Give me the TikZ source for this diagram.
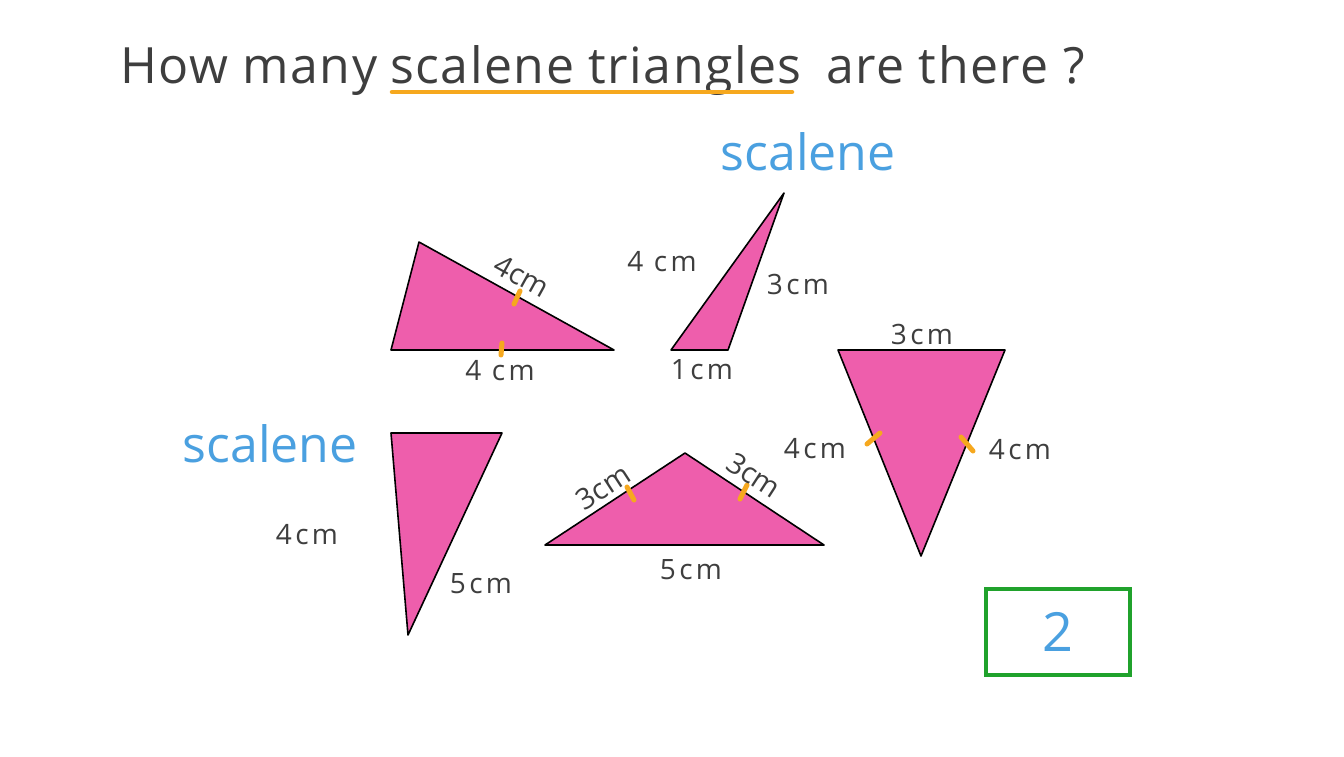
\documentclass[tikz,border=0pt]{standalone}
\usepackage{fontspec}
\setmainfont{Open Sans}
\definecolor{pinkfill}{RGB}{238,94,172}
\definecolor{tickorange}{RGB}{246,168,30}
\definecolor{textgray}{RGB}{62,62,62}
\definecolor{labelblue}{RGB}{74,160,224}
\definecolor{boxgreen}{RGB}{32,162,44}
\tikzset{
  tri/.style={fill=pinkfill,draw=black,line width=1.6pt,line join=round},
  tickmark/.style={draw=tickorange,line width=5pt,line cap=round},
  lab/.style={text=textgray,font=\fontsize{28}{32}\selectfont\addfontfeatures{LetterSpace=12},inner sep=0pt},
  rlab/.style={text=textgray,font=\fontsize{29}{32}\selectfont,inner sep=0pt},
  title/.style={text=textgray,font=\fontsize{50}{56}\selectfont\addfontfeatures{LetterSpace=3},inner sep=0pt,anchor=base west},
  bluelab/.style={text=labelblue,font=\fontsize{50}{56}\selectfont,inner sep=0pt},
}
\begin{document}
\begin{tikzpicture}[x=1pt,y=-1pt]
\useasboundingbox[fill=white] (0,0) rectangle (1344,756);
% title
\node[title] (t1) at (120,83) {How many};
\node[title] (t2) at (390,83) {scalene triangles};
\node[title] (t3) at (826,83) {are there ?};
\coordinate (ul1) at (392,92);
\coordinate (ul2) at (792,92);
\draw[tickorange,line width=4.5pt,line cap=round] (ul1) -- (ul2);
% triangle 1
\coordinate (a1) at (419,242);
\coordinate (a2) at (391,350);
\coordinate (a3) at (614,350);
\draw[tri] (a1) -- (a2) -- (a3) -- cycle;
\coordinate (k1a) at (514,304); \coordinate (k1b) at (520,291);
\draw[tickmark] (k1a) -- (k1b);
\coordinate (k2a) at (502,343); \coordinate (k2b) at (501,355);
\draw[tickmark] (k2a) -- (k2b);
\node[rlab,rotate=-29] (l1) at (522,276) {4cm};
\node[lab] (l2) at (500,371) {4 cm};
% triangle 2
\coordinate (b1) at (784,193);
\coordinate (b2) at (671,350);
\coordinate (b3) at (728,350);
\draw[tri] (b1) -- (b2) -- (b3) -- cycle;
\node[lab] (l3) at (662,262) {4 cm};
\node[lab] (l4) at (798,284) {3cm};
\node[lab] (l5) at (702,370) {1cm};
\node[bluelab] (s1) at (808,152) {scalene};
% triangle 3
\coordinate (c1) at (838,350);
\coordinate (c2) at (1005,350);
\coordinate (c3) at (921,556);
\draw[tri] (c1) -- (c2) -- (c3) -- cycle;
\coordinate (k3a) at (880,433); \coordinate (k3b) at (867,444);
\draw[tickmark] (k3a) -- (k3b);
\coordinate (k4a) at (961,437); \coordinate (k4b) at (973,451);
\draw[tickmark] (k4a) -- (k4b);
\node[lab] (l6) at (922,334) {3cm};
\node[lab] (l7) at (815,449) {4cm};
\node[lab] (l8) at (1020,450) {4cm};
% triangle 4
\coordinate (d1) at (391,433);
\coordinate (d2) at (502,433);
\coordinate (d3) at (408,635);
\draw[tri] (d1) -- (d2) -- (d3) -- cycle;
\node[lab] (l9) at (307,535) {4cm};
\node[lab] (l10) at (481,584) {5cm};
\node[bluelab] (s2) at (270,444) {scalene};
% triangle 5
\coordinate (e1) at (545,545);
\coordinate (e2) at (685,453);
\coordinate (e3) at (824,545);
\draw[tri] (e1) -- (e2) -- (e3) -- cycle;
\coordinate (k5a) at (627,487); \coordinate (k5b) at (634,500);
\draw[tickmark] (k5a) -- (k5b);
\coordinate (k6a) at (747,485); \coordinate (k6b) at (740,499);
\draw[tickmark] (k6a) -- (k6b);
\node[rlab,rotate=33] (l11) at (603,487) {3cm};
\node[rlab,rotate=-33] (l12) at (754,475) {3cm};
\node[lab] (l13) at (691,570) {5cm};
% answer box
\node[draw=boxgreen,line width=4pt,minimum width=144pt,minimum height=86pt,inner sep=0pt] (ans) at (1058,632) {};
\node[bluelab,font=\fontsize{54}{60}\selectfont] (two) at (ans.center) {2};
\end{tikzpicture}
\end{document}
